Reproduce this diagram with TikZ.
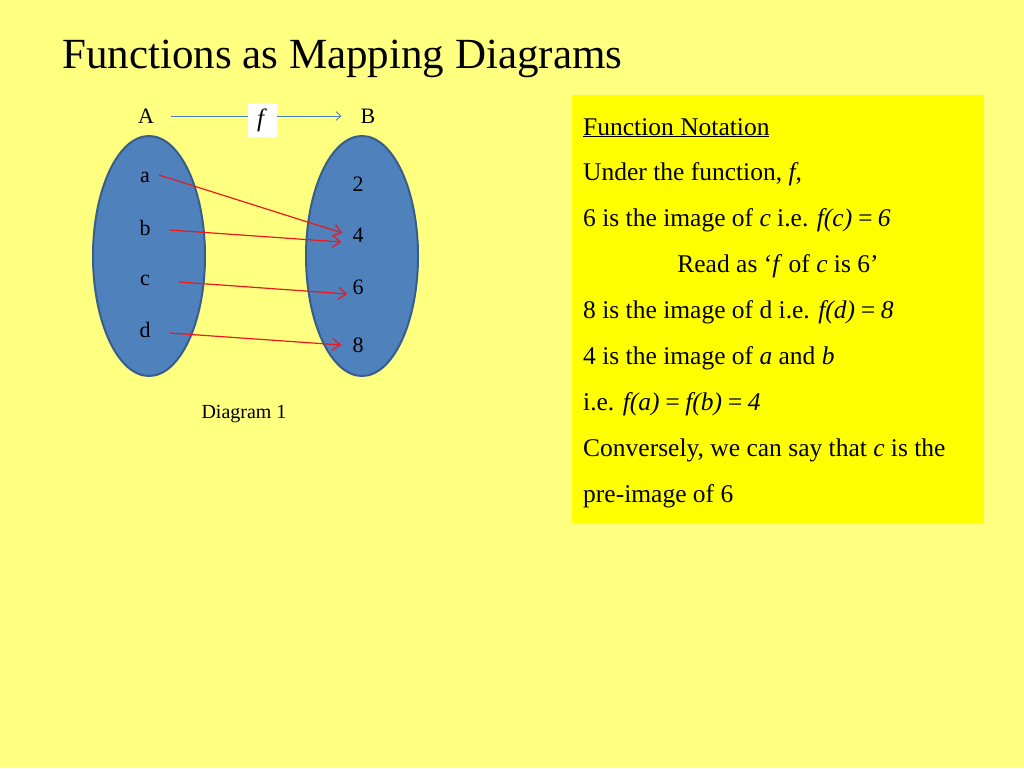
\documentclass[tikz,border=0pt]{standalone}
\usepackage{fontspec}
\setmainfont{Liberation Serif}
\usetikzlibrary{arrows.meta,shapes.geometric}
\definecolor{slidebg}{RGB}{255,255,128}
\definecolor{notebg}{RGB}{255,255,0}
\definecolor{setfill}{RGB}{79,129,189}
\definecolor{setdraw}{RGB}{56,93,138}
\definecolor{mapred}{RGB}{235,25,25}
\definecolor{topline}{RGB}{74,126,187}
\newcommand{\hw}[1]{\textit{#1}}
\tikzset{
  setbody/.style={ellipse, fill=setfill, draw=setdraw, line width=2pt,
    minimum width=112pt, minimum height=240pt},
  elem/.style={font=\fontsize{22}{24}\selectfont, inner sep=0pt},
  mapsto/.style={mapred, line width=1.2pt,
    -{Straight Barb[length=8pt,width=12pt]}},
  noteline/.style={anchor=base west, inner sep=0pt,
    font=\fontsize{25.5}{28}\selectfont}
}
\begin{document}
\begin{tikzpicture}[x=1pt, y=-1pt]
            \useasboundingbox (0,0) rectangle (1024,768);
            \fill[slidebg] (0,0) rectangle (1024,768);
            \node[anchor=base west, inner sep=0pt, font=\fontsize{43}{46}\selectfont] (title) at (62,68) {Functions as Mapping Diagrams};
            % the two sets
            \node[setbody] (setA) at (149,256) {};
            \node[setbody] (setB) at (362,256) {};
            \node[elem] (A) at (146,116) {A};
            \node[elem] (B) at (368,116) {B};
            \draw[topline, line width=0.8pt, -{Straight Barb[length=5pt,width=9pt]}] ([xshift=17pt]A.east) -- ([xshift=-19pt]B.west);
            \node[fill=white, minimum width=29pt, minimum height=34pt, inner sep=0pt, font=\fontsize{25}{28}\selectfont] (f) at (262,120) {\hw{f}};
            \node[elem] (a) at (145,177) {a};
            \node[elem] (b) at (145,228) {b};
            \node[elem] (c) at (145,280) {c};
            \node[elem] (d) at (145,330) {d};
            \node[elem] (n2) at (358,184) {2};
            \node[elem] (n4) at (358,235) {4};
            \node[elem] (n6) at (358,287) {6};
            \node[elem] (n8) at (358,345) {8};
            % the mapping
            \draw[mapsto] ([xshift=9pt,yshift=2pt]a.east) -- ([xshift=-10pt,yshift=2pt]n4.west);
            \draw[mapsto] ([xshift=19pt,yshift=-2pt]b.east) -- ([xshift=-11pt,yshift=-7pt]n4.west);
            \draw[mapsto] ([xshift=29pt,yshift=-2pt]c.east) -- ([xshift=-5pt,yshift=-7pt]n6.west);
            \draw[mapsto] ([xshift=19pt,yshift=-3pt]d.east) -- ([xshift=-11pt]n8.west);
            \node[font=\fontsize{20}{22}\selectfont] (cap) at (244,414) {Diagram 1};
            % the note
            \fill[notebg] (572,95) rectangle (984,523);
            \node[noteline] (l1) at (583,135) {\underline{Function Notation}};
            \node[noteline] (l2) at (583,180) {Under the function, \hw{f},};
            \node[noteline] (l3) at (583,226) {6 is the image of \hw{c} i.e. \hw{f(c)\,=\,6}};
            \node[noteline, anchor=base] (l4) at (778,272) {Read as ‘\hw{f} of \hw{c} is 6’};
            \node[noteline] (l5) at (583,318) {8 is the image of d i.e. \hw{f(d)\,=\,8}};
            \node[noteline] (l6) at (583,364) {4 is the image of \hw{a} and \hw{b}};
            \node[noteline] (l7) at (583,410) {i.e. \hw{f(a)\,=\,f(b)\,=\,4}};
            \node[noteline] (l8) at (583,456) {Conversely, we can say that \hw{c} is the};
            \node[noteline] (l9) at (583,502) {pre-image of 6};
        \end{tikzpicture}
\end{document}
